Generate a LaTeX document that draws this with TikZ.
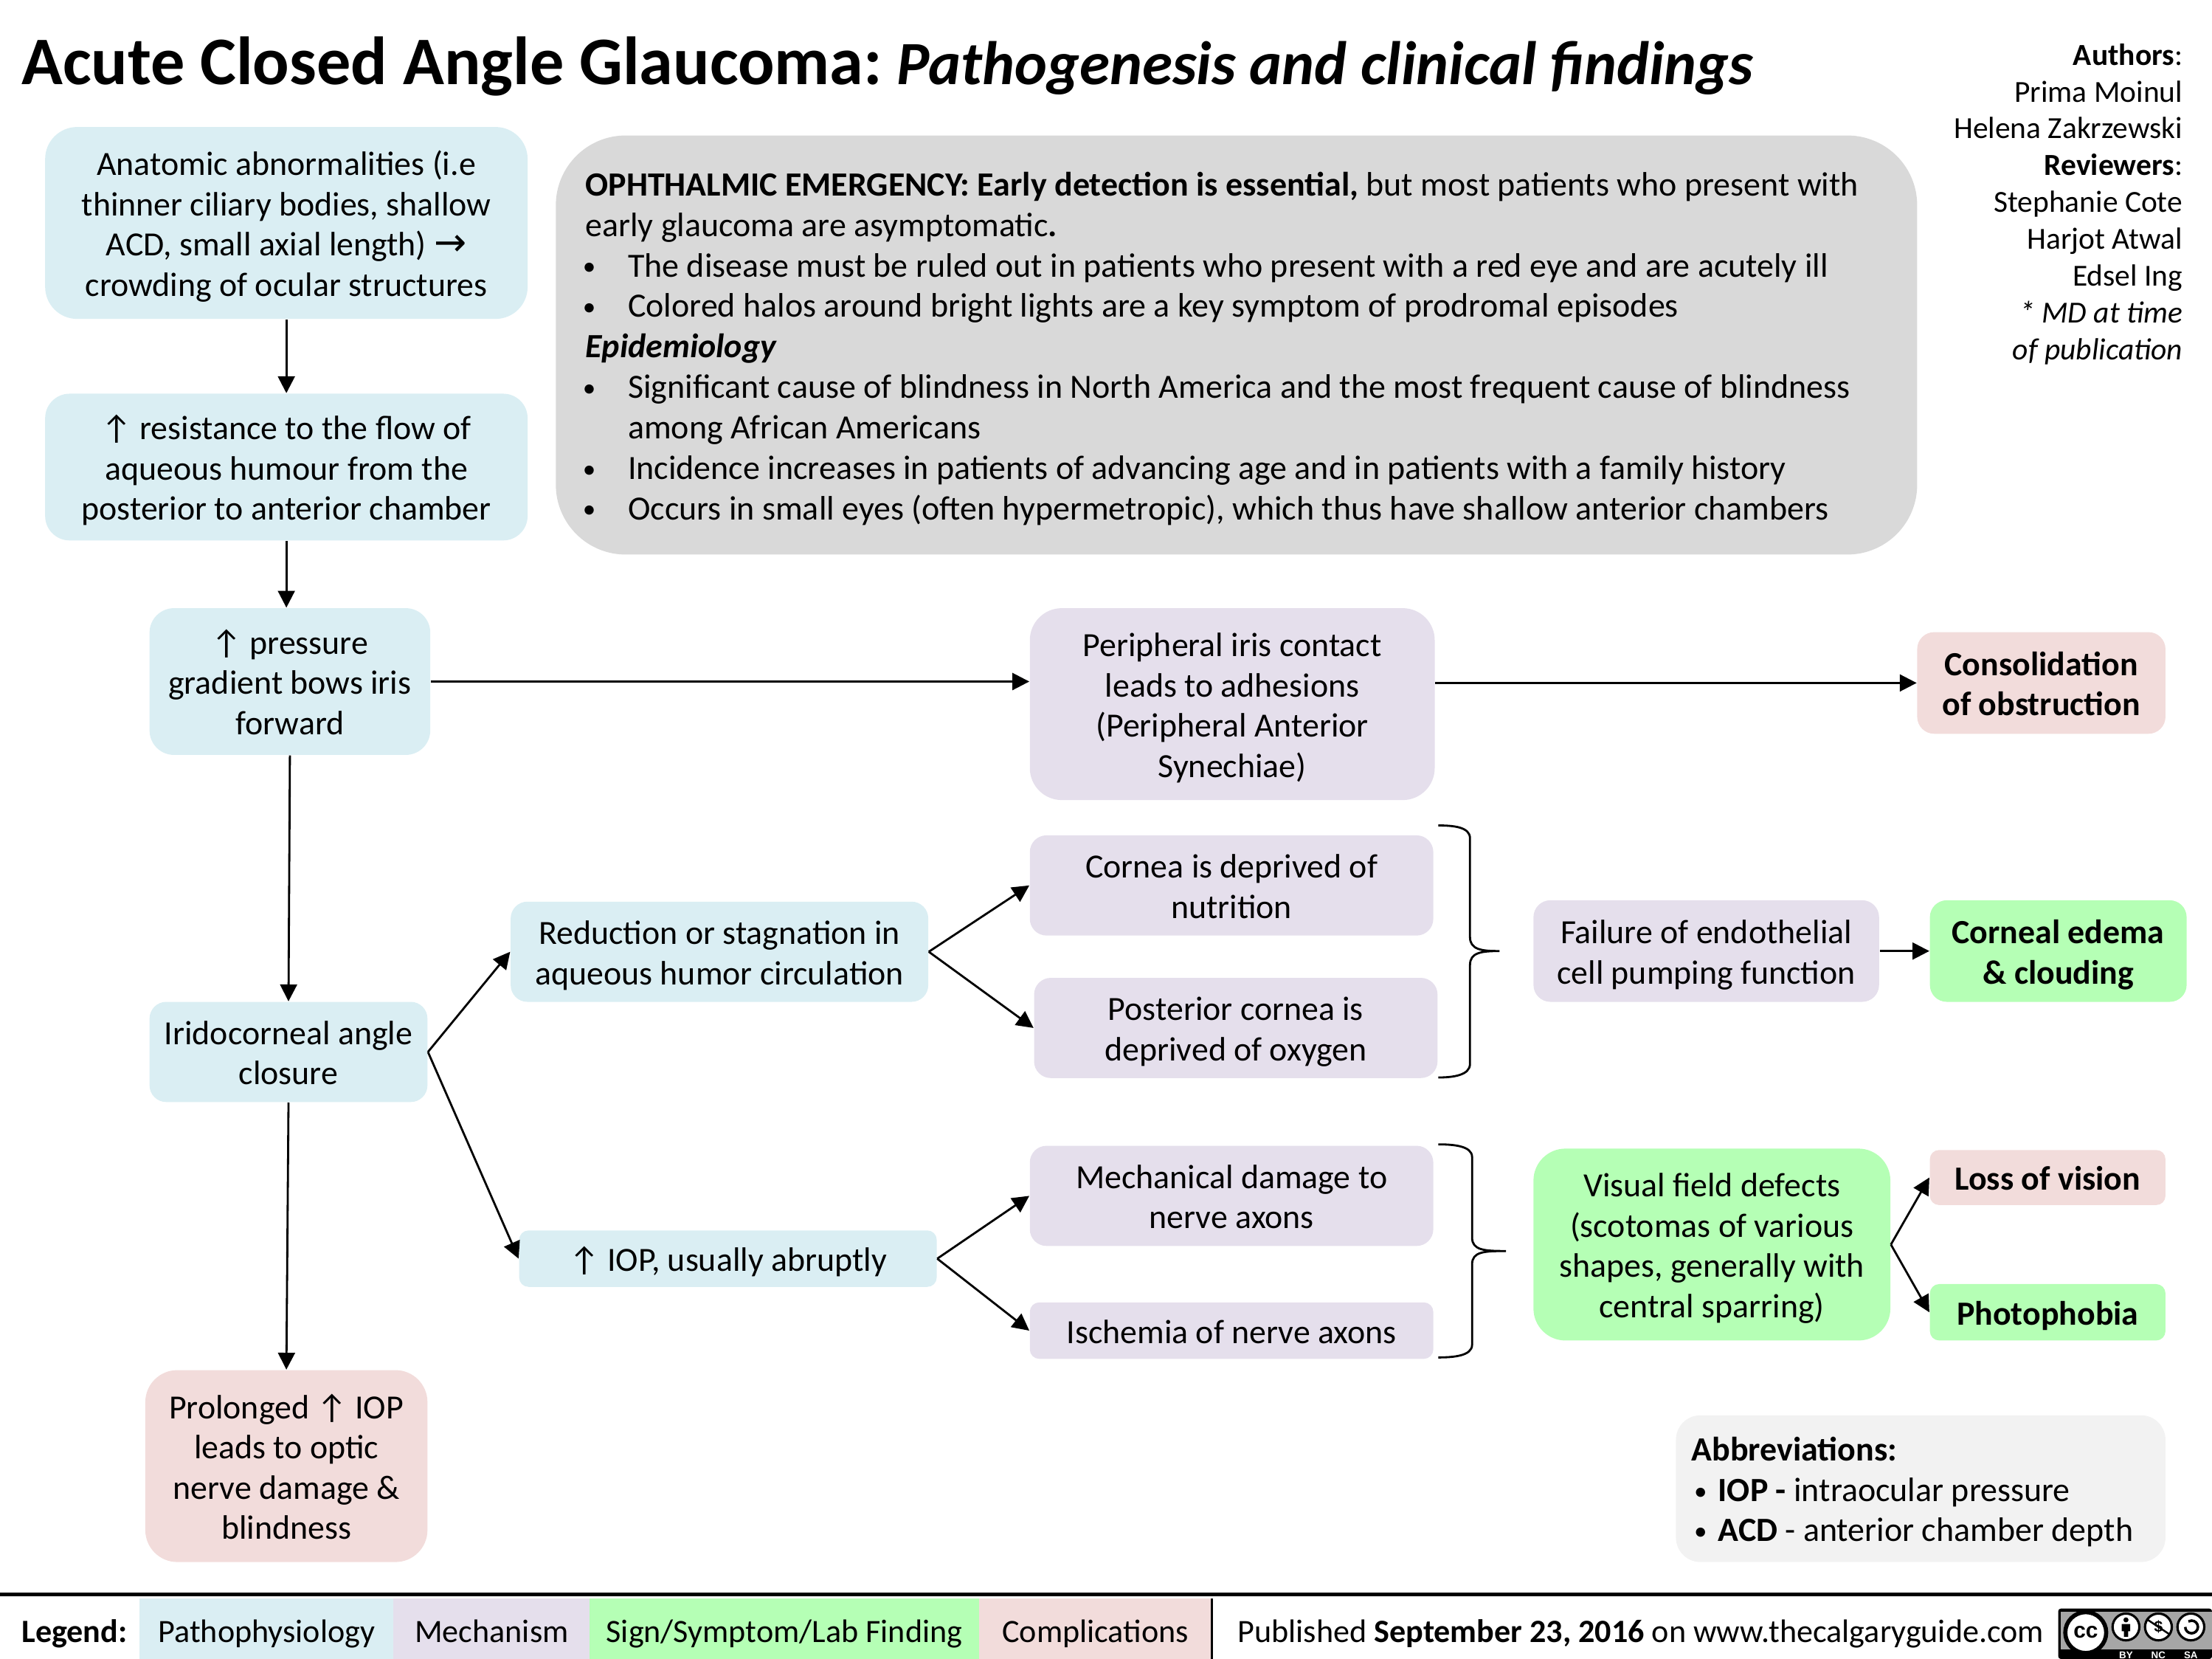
\documentclass[tikz,border=0pt]{standalone}
\usepackage{fontspec}
\setmainfont{Carlito}
\setsansfont{Liberation Sans}
\newfontfamily\arrowfont{DejaVu Sans}
\usepackage{tikz}
\usetikzlibrary{arrows.meta}
\definecolor{pathocol}{HTML}{DAEEF3}
\definecolor{mechcol}{HTML}{E5DFEC}
\definecolor{signcol}{HTML}{B5FFB5}
\definecolor{compcol}{HTML}{F2DCDB}
\definecolor{notecol}{HTML}{D9D9D9}
\definecolor{abbrcol}{HTML}{F2F2F2}
\newcommand{\smalldot}{\raisebox{0.6pt}{\fontsize{10}{10}\selectfont\textbullet}}
\newcommand{\blt}{\makebox[16.4pt][l]{\hspace{-1pt}\smalldot}}
\newcommand{\bltb}{\makebox[10.3pt][l]{\hspace{1pt}\smalldot}}
\tikzset{
    >={Triangle[length=6.5pt,width=6.5pt]},
    boxsize/.style 2 args={minimum width=#1*0.01912cm, minimum height=#2*0.01912cm,
        text width=#1*0.01912cm, rounded corners={min(#1,#2)*0.01912cm/6}},
    textbox/.style={inner sep=0pt, align=flush center, font=\fontsize{13.05}{15.5}\selectfont,
        execute at begin node={\rule{0pt}{13pt}}, execute at end node={\rule[-3.2pt]{0pt}{3.2pt}}},
    patho/.style={textbox, fill=pathocol},
    mech/.style={textbox, fill=mechcol},
    sign/.style={textbox, fill=signcol},
    comp/.style={textbox, fill=compcol},
    legend/.style={inner sep=0pt, minimum height=43*0.01912cm, text height=11.5pt, text depth=1.5pt,
        font=\fontsize{12.55}{15.5}\selectfont},
    flow/.style={draw=black, line width=0.8pt, ->},
    bracket/.style={draw=black, line width=0.8pt},
    ccring/.style={draw=black, fill=white, line width=0.9pt},
}
\begin{document}
\begin{tikzpicture}[x=0.01912cm, y=-0.01912cm]
\useasboundingbox (0,0) rectangle (1568,1175.73);
\node[anchor=base west, inner sep=0pt] (title) at (15,60) {\fontsize{26.25}{30}\selectfont\textbf{Acute Closed Angle Glaucoma:}\hspace{5.6pt}\fontsize{23.7}{30}\selectfont\textbf{\textit{Pathogenesis and clinical findings}}};
\node[anchor=north east, inner sep=0pt, align=right, font=\fontsize{11.8}{14.2}\selectfont] (authors) at (1547.5,30.5) {\textbf{Authors}:\\Prima Moinul\\Helena Zakrzewski\\\textbf{Reviewers}:\\Stephanie Cote\\Harjot Atwal\\Edsel Ing\\\textit{* MD at time}\\\textit{of publication}};
\node[patho, boxsize={342}{136}] (anatomic) at (203,158) {Anatomic abnormalities (i.e\\thinner ciliary bodies, shallow\\ACD, small axial length) {\arrowfont\fontsize{15}{12}\selectfont →}\\crowding of ocular structures};
\node[patho, boxsize={342}{104}] (resist) at (203,331) {↑ resistance to the flow of\\aqueous humour from the\\posterior to anterior chamber};
\node[patho, boxsize={199}{104}] (gradient) at (205.5,483) {↑ pressure\\gradient bows iris\\forward};
\node[patho, boxsize={197}{71}] (closure) at (204.5,745.5) {Iridocorneal angle\\closure};
\node[comp, boxsize={200}{136}] (prolonged) at (203,1039) {Prolonged ↑ IOP\\leads to optic\\nerve damage \&\\blindness};
\node[patho, boxsize={296}{71}] (stagnate) at (510,674.5) {Reduction or stagnation in\\aqueous humor circulation};
\node[patho, boxsize={296}{40}] (iop) at (516,892) {↑ IOP, usually abruptly};
\node[mech, boxsize={287}{136}] (adhesion) at (873.5,499) {Peripheral iris contact\\leads to adhesions\\(Peripheral Anterior\\Synechiae)};
\node[mech, boxsize={286}{71}] (nutrition) at (873,627.5) {Cornea is deprived of\\nutrition};
\node[mech, boxsize={286}{71}] (oxygen) at (876,728.5) {Posterior cornea is\\deprived of oxygen};
\node[mech, boxsize={286}{71}] (axons) at (873,847.5) {Mechanical damage to\\nerve axons};
\node[mech, boxsize={286}{40}] (ischemia) at (873,943) {Ischemia of nerve axons};
\node[mech, boxsize={245}{72}] (failure) at (1209.5,674) {Failure of endothelial\\cell pumping function};
\node[sign, boxsize={253}{136}] (visual) at (1213.5,882) {Visual field defects\\(scotomas of various\\shapes, generally with\\central sparring)};
\node[comp, boxsize={176}{72}] (consol) at (1447,484) {\textbf{Consolidation}\\\textbf{of obstruction}};
\node[sign, boxsize={182}{72}] (edema) at (1459,674) {\textbf{Corneal edema}\\\textbf{\& clouding}};
\node[comp, boxsize={167}{39}] (loss) at (1451.5,834.5) {\textbf{Loss of vision}};
\node[sign, boxsize={167}{40}] (photo) at (1451.5,930) {\textbf{Photophobia}};
\node[textbox, fill=notecol, boxsize={965}{297}, text width=923*0.01912cm, align=flush left, font=\fontsize{13.08}{15.6}\selectfont] (note) at (876.5,244.5) {\textbf{OPHTHALMIC EMERGENCY: Early detection is essential,} but most patients who present with\\early glaucoma are asymptomatic\textbf{.}\\\blt The disease must be ruled out in patients who present with a red eye and are acutely ill\\\blt Colored halos around bright lights are a key symptom of prodromal episodes\\\textbf{\textit{Epidemiology}}\\\blt Significant cause of blindness in North America and the most frequent cause of blindness\\\hspace*{16.4pt}among African Americans\\\blt Incidence increases in patients of advancing age and in patients with a family history\\\blt Occurs in small eyes (often hypermetropic), which thus have shallow anterior chambers};
\node[textbox, fill=abbrcol, boxsize={347}{104}, text width=325*0.01912cm, align=flush left, font=\fontsize{13.08}{15.5}\selectfont] (abbrev) at (1361.5,1055) {\textbf{Abbreviations:}\\\bltb\textbf{IOP -} intraocular pressure\\\bltb\textbf{ACD} - anterior chamber depth};
\draw[flow] (anatomic.south) -- (resist.north);
\draw[flow] (resist.south) -- (resist.south |- gradient.north);
\draw[flow] (gradient.south) -- (closure.north);
\draw[flow] (closure.south) -- (prolonged.north);
\draw[flow] (gradient.east) -- (gradient.east -| adhesion.west);
\draw[flow] (adhesion.east |- consol.west) -- (consol.west);
\draw[flow] (closure.east) -- (stagnate.west);
\draw[flow] (closure.east) -- (iop.west);
\draw[flow] (stagnate.east) -- (nutrition.west);
\draw[flow] (stagnate.east) -- (oxygen.west);
\draw[flow] (iop.east) -- (axons.west);
\draw[flow] (iop.east) -- (ischemia.west);
\draw[flow] (failure.east) -- (edema.west);
\draw[flow] (visual.east) -- (loss.west);
\draw[flow] (visual.east) -- (photo.west);
\draw[bracket] (1019.5,585) .. controls (1030,585) and (1042,586) .. (1042,594) -- (1042,664) .. controls (1042,673) and (1050,674) .. (1063,674) .. controls (1050,674) and (1042,675) .. (1042,684) -- (1042,754) .. controls (1042,762) and (1030,763.6) .. (1019.5,763.6);
\draw[bracket] (1019.5,811) .. controls (1030,811) and (1043.5,812) .. (1043.5,820) -- (1043.5,877) .. controls (1043.5,886) and (1052,886.6) .. (1067.5,886.6) .. controls (1052,886.6) and (1043.5,887) .. (1043.5,896) -- (1043.5,953) .. controls (1043.5,961) and (1030,962) .. (1019.5,962);
% legend strip
\draw[line width=1.2pt] (0,1130) -- (1568,1130);
\node[legend, anchor=west, font=\fontsize{12.55}{15.5}\selectfont\bfseries] (legendhead) at (15,1154.5) {Legend:};
\node[legend, fill=pathocol, minimum width=180*0.01912cm] (legpatho) at (189,1154.5) {Pathophysiology};
\node[legend, fill=mechcol, minimum width=139*0.01912cm] (legmech) at (348.5,1154.5) {Mechanism};
\node[legend, fill=signcol, minimum width=276*0.01912cm] (legsign) at (556,1154.5) {Sign/Symptom/Lab Finding};
\node[legend, fill=compcol, minimum width=165*0.01912cm] (legcomp) at (776.5,1154.5) {Complications};
\draw[line width=0.7pt] (859,1133) -- (859,1175.7);
\node[legend, anchor=west] (published) at (877,1154.5) {Published \textbf{September 23, 2016} on www.thecalgaryguide.com};
% licence badge
\fill[black, rounded corners=1pt] (1459,1140) rectangle (1568,1175.7);
\fill[black!35] (1461,1142) rectangle (1568,1169);
\node[inner sep=0pt, text=white, font=\sffamily\bfseries\fontsize{3.8}{4}\selectfont] (ccby) at (1507,1173) {BY};
\node[inner sep=0pt, text=white, font=\sffamily\bfseries\fontsize{3.8}{4}\selectfont] (ccnc) at (1530,1173) {NC};
\node[inner sep=0pt, text=white, font=\sffamily\bfseries\fontsize{3.8}{4}\selectfont] (ccsa) at (1553,1173) {SA};
\draw[ccring, line width=1.6pt] (1478.5,1157) circle (14.5);
\node[inner sep=0pt, font=\sffamily\bfseries\fontsize{8.5}{9}\selectfont] (cctext) at (1478.5,1156.5) {cc};
\draw[ccring] (1507,1153) circle (9.5);
\draw[ccring] (1530,1153) circle (9.5);
\draw[ccring] (1553,1153) circle (9.5);
\fill[black] (1507,1148) circle (1.8);
\fill[black] (1504,1151) rectangle (1510,1156) (1505.5,1156) rectangle (1508.5,1160);
\node[inner sep=0pt, font=\sffamily\bfseries\fontsize{6}{6}\selectfont] (ccdollar) at (1530,1153) {\$};
\draw[line width=0.7pt] (1522.5,1148) -- (1537.5,1158);
\draw[line width=1pt] (1549,1153) arc[start angle=180, end angle=-120, radius=4.5];
\end{tikzpicture}
\end{document}
